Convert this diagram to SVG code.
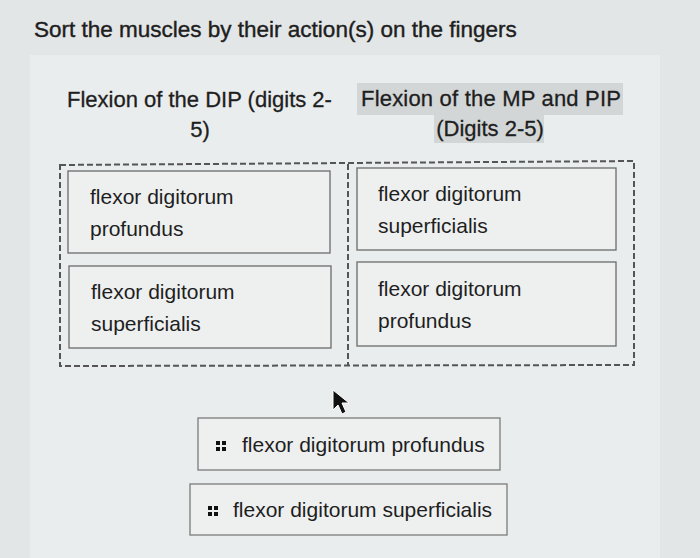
<svg xmlns="http://www.w3.org/2000/svg" width="700" height="558" viewBox="0 0 700 558">
<style>
text{font-family:"Liberation Sans",Arial,sans-serif;fill:#1e1e1e;font-size:21px}
.t{font-size:22.5px;stroke:#1e1e1e;stroke-width:0.4}
.h{font-size:22px;stroke:#1e1e1e;stroke-width:0.3}
.box{fill:#eef0f0;stroke:#6a6a6a;stroke-width:1.3}
.dash{fill:none;stroke:#555;stroke-width:2;stroke-dasharray:6 3}
.tile{fill:#eef0f0;stroke:#7a7a7a;stroke-width:1.3}
</style>
<rect width="700" height="558" fill="#e3e6e6"/>
<rect x="30" y="55" width="630" height="503" fill="#eaeded"/>
<text class="t" x="34" y="37">Sort the muscles by their action(s) on the fingers</text>
<g id="hdr-left">
<text class="h" x="67" y="107">Flexion of the DIP (digits 2-</text>
<text class="h" x="200" y="137" text-anchor="middle">5)</text>
</g>
<g id="hdr-right">
<rect x="357" y="83" width="266" height="32" fill="#d3d6d6"/>
<rect x="434" y="115" width="110" height="28" fill="#d3d6d6"/>
<text class="h" x="361" y="106" textLength="260">Flexion of the MP and PIP</text>
<text class="h" x="490" y="136" text-anchor="middle">(Digits 2-5)</text>
</g>
<g id="connectors">
<path class="dash" d="M60 165 L634 161 L634 365 L60 366 Z"/>
<line class="dash" x1="348" y1="164" x2="348" y2="365"/>
</g>
<g id="lt"><rect class="box" x="68" y="171" width="262" height="82"/><text x="90" y="204">flexor digitorum</text><text x="90" y="236">profundus</text></g>
<g id="lb"><rect class="box" x="69" y="266" width="262" height="82"/><text x="91" y="299">flexor digitorum</text><text x="91" y="331">superficialis</text></g>
<g id="rt"><rect class="box" x="357" y="168" width="259" height="82"/><text x="378" y="201">flexor digitorum</text><text x="378" y="233">superficialis</text></g>
<g id="rb"><rect class="box" x="357" y="262" width="259" height="84"/><text x="378" y="296">flexor digitorum</text><text x="378" y="328">profundus</text></g>
<g id="cursor"><path d="M333 390 L333 410 L338 405 L342 414 L346 412 L342 403 L349 403 Z" fill="#111" stroke="#fff" stroke-width="1"/></g>
<g id="tile1"><rect class="tile" x="198" y="418" width="302" height="52"/>
<g fill="#111"><rect x="216" y="441" width="4" height="4"/><rect x="222" y="441" width="4" height="4"/><rect x="216" y="447" width="4" height="4"/><rect x="222" y="447" width="4" height="4"/></g>
<text x="242" y="452">flexor digitorum profundus</text></g>
<g id="tile2"><rect class="tile" x="190" y="484" width="317" height="51"/>
<g fill="#111"><rect x="208" y="506" width="4" height="4"/><rect x="214" y="506" width="4" height="4"/><rect x="208" y="512" width="4" height="4"/><rect x="214" y="512" width="4" height="4"/></g>
<text x="233" y="517">flexor digitorum superficialis</text></g>
</svg>
